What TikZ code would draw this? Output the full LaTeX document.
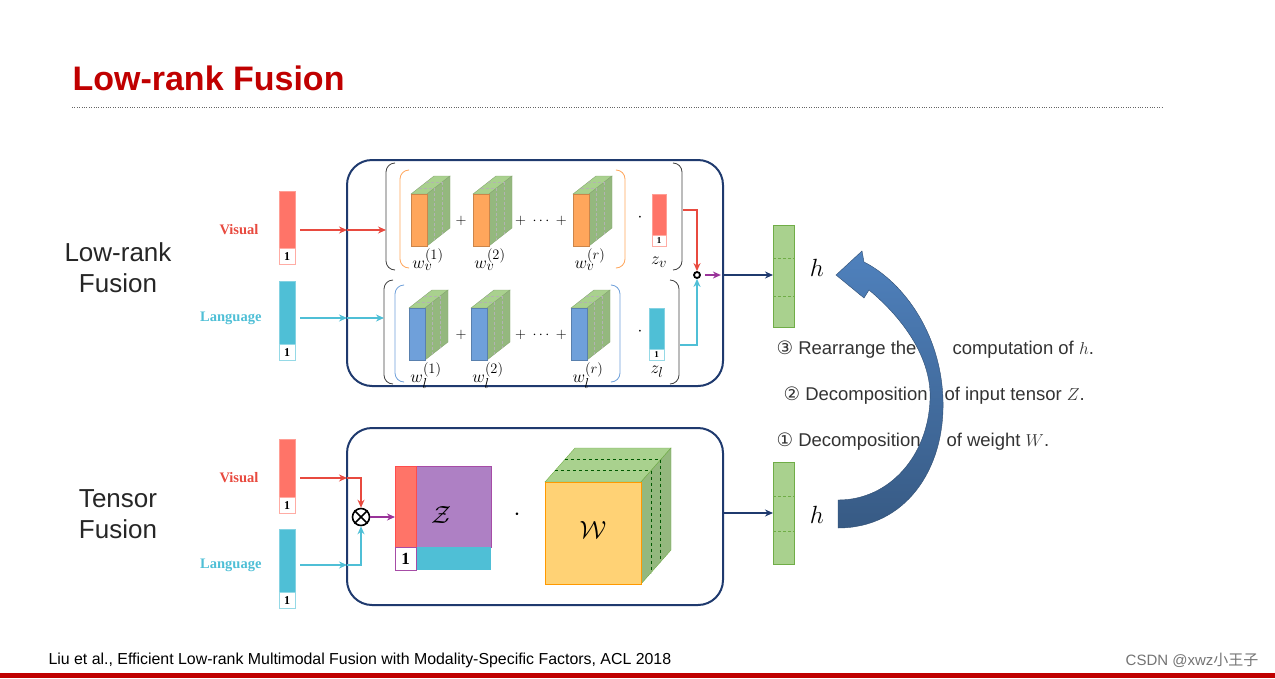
\documentclass[tikz,border=0pt]{standalone}
\usepackage{fontspec}
\setmainfont{Liberation Sans}
\newfontfamily\serifbold{Liberation Serif}
\newfontfamily\dejavu{DejaVu Sans}
\newfontfamily\cjk{Noto Sans CJK SC}
\usetikzlibrary{arrows.meta,positioning}
\definecolor{slidered}{HTML}{C00000}
\definecolor{vred}{HTML}{FF7468}
\definecolor{vtext}{HTML}{E84A3F}
\definecolor{lcyan}{HTML}{4FBFD6}
\definecolor{navy}{HTML}{1F3A6E}
\definecolor{hgreen}{HTML}{A9D18E}
\definecolor{dgreen}{HTML}{70AD47}
\definecolor{sgreen}{HTML}{94B87E}
\definecolor{lorange}{HTML}{FFA65C}
\definecolor{lblue}{HTML}{6FA0DA}
\definecolor{zpurple}{HTML}{AE80C4}
\definecolor{wyellow}{HTML}{FFD275}
\definecolor{arrowblue}{HTML}{4F81BD}

\begin{document}
\begin{tikzpicture}[
x=1pt,y=-1pt,
vec/.style={rectangle,draw=#1!70,fill=#1,inner sep=0pt,minimum width=16pt,anchor=north west},
one/.style={rectangle,draw=#1!60,fill=white,inner sep=0pt,minimum width=16pt,minimum height=16pt,
  anchor=north west,font=\fontsize{12}{12}\serifbold\bfseries},
modal/.style={font=\fontsize{14.5}{14.5}\serifbold\bfseries,text=#1},
fusion/.style={font=\fontsize{26}{31}\selectfont,align=center,text=black!85},
big box/.style={draw=navy,line width=2pt,rounded corners=25pt},
link/.style={-{Stealth[length=8pt,width=7pt]},line width=2.2pt},
hvec/.style={rectangle,draw=dgreen,fill=hgreen,thick,minimum width=21pt,minimum height=102pt,inner sep=0pt,anchor=north west},
step text/.style={font=\fontsize{18.5}{18.5}\selectfont,text=black!80,anchor=west},
mathlab/.style={font=\fontsize{19}{19}\selectfont,inner sep=1pt}
]
\useasboundingbox (0,0) rectangle (1275,678);

% title
\node[anchor=west,font=\fontsize{34}{34}\selectfont\bfseries,text=slidered] (title) at (69,78) {Low-rank Fusion};
\draw[dotted,black!60] (72,107) -- (1163,107);

% left labels
\node[fusion] (lrf) at (118,268) {Low-rank\\Fusion};
\node[fusion] (tf) at (118,514) {Tensor\\Fusion};

% ---------- low-rank branch ----------
\node[vec=vred,minimum height=57pt] (vv1) at (279,191) {};
\node[one=vred,below=0pt of vv1.south west,anchor=north west] (vo1) {1};
\node[vec=lcyan,minimum height=63pt] (lv1) at (279,281) {};
\node[one=lcyan,below=0pt of lv1.south west,anchor=north west] (lo1) {1};
\node[modal=vtext,anchor=east] (vl1) at (262,230) {Visual};
\node[modal=lcyan,anchor=east] (ll1) at (265,318) {Language};

\draw[big box] (347,160) rectangle (723,386);

% brackets
\draw[thick,black!75,rounded corners=9pt] (395,163) -- (386,163) -- (386,270) -- (395,270);
\draw[thick,black!75,rounded corners=9pt] (673,163) -- (682,163) -- (682,270) -- (673,270);
\draw[thick,lorange,rounded corners=9pt] (408,170) -- (400,170) -- (400,268) -- (408,268);
\draw[thick,lorange,rounded corners=9pt] (617,170) -- (625,170) -- (625,268) -- (617,268);
\draw[thick,black!75,rounded corners=9pt] (393,280) -- (384,280) -- (384,384) -- (393,384);
\draw[thick,black!75,rounded corners=9pt] (670,280) -- (679,280) -- (679,384) -- (670,384);
\draw[thick,lblue,rounded corners=9pt] (403,285) -- (395,285) -- (395,382) -- (403,382);
\draw[thick,lblue,rounded corners=9pt] (612,285) -- (620,285) -- (620,382) -- (612,382);

% factor slabs
\foreach \x/\y/\c/\lab in {411/194/lorange/{w_v^{(1)}},473/194/lorange/{w_v^{(2)}},573/194/lorange/{w_v^{(r)}},
                             409/308/lblue/{w_l^{(1)}},471/308/lblue/{w_l^{(2)}},571/308/lblue/{w_l^{(r)}}}{
  \fill[hgreen,draw=hgreen!80!black] (\x,\y) -- ({\x+16},\y) -- ({\x+39},{\y-18}) -- ({\x+23},{\y-18}) -- cycle;
  \fill[sgreen,draw=hgreen!80!black] ({\x+16},\y) -- ({\x+39},{\y-18}) -- ({\x+39},{\y+34}) -- ({\x+16},{\y+52}) -- cycle;
  \foreach \t in {0.33,0.66}{
    \draw[densely dashed,black!30,very thin] ({\x+16+23*\t},{\y-18*\t}) -- ({\x+16+23*\t},{\y+52-18*\t});
    \draw[densely dashed,black!30,very thin] ({\x+23*\t},{\y-18*\t}) -- ({\x+16+23*\t},{\y-18*\t});
  }
  \fill[\c,draw=\c!80!black] (\x,\y) rectangle ({\x+16},{\y+52});
  \node[mathlab,anchor=north] at ({\x+17},{\y+53}) {$\lab$};
}
\foreach \y in {221,335}{
  \node[font=\fontsize{15}{15}\selectfont] at (461,\y) {$+$};
  \node[font=\fontsize{15}{15}\selectfont] at (541,\y) {$+\ \cdots\ +$};
  \node[font=\fontsize{18}{18}\selectfont] at (640,{\y-3}) {$\cdot$};
}
\node[vec=vred,minimum width=14pt,minimum height=41pt] (zv) at (652,194) {};
\node[one=vred,minimum width=14pt,minimum height=11pt,font=\fontsize{9}{9}\serifbold\bfseries,anchor=north west] (zvo) at (652,235) {1};
\node[mathlab] (zvl) at (659,262) {$z_v$};
\node[vec=lcyan,minimum width=15pt,minimum height=41pt] (zl) at (649,308) {};
\node[one=lcyan,minimum width=15pt,minimum height=11pt,font=\fontsize{9}{9}\serifbold\bfseries,anchor=north west] (zlo) at (649,349) {1};
\node[mathlab] (zll) at (657,372) {$z_l$};

\node[circle,draw,line width=1.8pt,inner sep=0pt,minimum size=6pt] (odot) at (697,275) {};
\coordinate (vin1) at (347,230);
\coordinate (lin1) at (347,318);
\draw[link,vtext] (vv1.east |- vin1) ++(5,0) -- (vin1);
\draw[link,vtext] (vin1) -- (386,230);
\draw[link,lcyan] (lv1.east |- lin1) ++(5,0) -- (lin1);
\draw[link,lcyan] (lin1) -- (384,318);
\draw[link,vtext] (683,210) -| (odot.north);
\draw[link,lcyan] (680,345) -| (odot.south);
\draw[link,violet!80] (odot.east) ++(4,0) -- ++(16,0);

\node[hvec] (h1) at (773,225) {};
\draw[densely dashed,dgreen] (773,258) -- (794,258) (773,296) -- (794,296);
\node[font=\fontsize{28}{28}\selectfont] (h1l) at (817,268) {$h$};
\draw[link,navy] (723,275) -- (h1.west |- 0,275);

% ---------- tensor branch ----------
\node[vec=vred,minimum height=58pt] (vv2) at (279,439) {};
\node[one=vred,below=0pt of vv2.south west,anchor=north west] (vo2) {1};
\node[vec=lcyan,minimum height=63pt] (lv2) at (279,529) {};
\node[one=lcyan,below=0pt of lv2.south west,anchor=north west] (lo2) {1};
\node[modal=vtext,anchor=east] (vl2) at (262,478) {Visual};
\node[modal=lcyan,anchor=east] (ll2) at (265,565) {Language};

\draw[big box] (347,428) rectangle (723,605);

\node[circle,draw,line width=1.6pt,inner sep=0pt,minimum size=17pt] (otimes) at (361,517) {};
\draw[line width=1.6pt] (otimes.north west) -- (otimes.south east) (otimes.north east) -- (otimes.south west);
\coordinate (vin2) at (347,478);
\coordinate (lin2) at (347,565);
\draw[link,vtext] (vv2.east |- vin2) ++(5,0) -- (vin2);
\draw[link,vtext] (vin2) -| (otimes.north);
\draw[link,lcyan] (lv2.east |- lin2) ++(5,0) -- (lin2);
\draw[link,lcyan] (lin2) -| (otimes.south);

% Z matrix
\fill[zpurple,draw=violet!70] (416,466) rectangle (491,547);
\fill[lcyan] (416,547) rectangle (491,570);
\fill[vred,draw=red!70] (395,466) rectangle (416,547);
\node[rectangle,draw=violet!70,fill=white,minimum width=21pt,minimum height=23pt,inner sep=0pt,anchor=north west,
  font=\fontsize{17}{17}\serifbold\bfseries] (zone) at (395,547) {1};
\node[font=\fontsize{32}{32}\selectfont] (zlab) at (441,515) {$\mathcal{Z}$};
\coordinate (zleft) at (395,517);
\draw[link,violet!80] (otimes.east) -- (zleft);
\node[font=\fontsize{24}{24}\selectfont] (dot2) at (517,515) {$\cdot$};

% W tensor
\fill[hgreen,draw=dgreen] (545,482) -- (641,482) -- (671,448) -- (575,448) -- cycle;
\fill[sgreen,draw=dgreen] (641,482) -- (671,448) -- (671,550) -- (641,584) -- cycle;
\foreach \t in {0.33,0.66}{
  \draw[dashed,thick,green!35!black] ({641+30*\t},{482-34*\t}) -- ({641+30*\t},{584-34*\t});
  \draw[dashed,thick,green!35!black] ({545+30*\t},{482-34*\t}) -- ({641+30*\t},{482-34*\t});
}
\fill[wyellow,draw=orange!80!yellow,thick] (545,482) rectangle (641,584);
\node[font=\fontsize{32}{32}\selectfont] (wlab) at (593,530) {$\mathcal{W}$};

\node[hvec] (h2) at (773,462) {};
\draw[densely dashed,dgreen] (773,496) -- (794,496) (773,531) -- (794,531);
\node[font=\fontsize{28}{28}\selectfont] (h2l) at (817,515) {$h$};
\draw[link,navy] (723,513) -- (h2.west |- 0,513);

% steps and curved arrow
\node[step text] (s3a) at (773,350) {{\dejavu\char"2462} Rearrange the};
\node[step text] (s3b) at (949,350) {computation of $h$.};
\node[step text] (s2a) at (780,396) {{\dejavu\char"2461} Decomposition};
\node[step text] (s2b) at (941,396) {of input tensor $Z$.};
\node[step text] (s1a) at (773,442) {{\dejavu\char"2460} Decomposition};
\node[step text] (s1b) at (943,442) {of weight $W$.};

\shade[top color=arrowblue,bottom color=arrowblue!70!black,draw=arrowblue!60!black]
  (838,528) .. controls (905,528) and (945,470) .. (943,400)
  .. controls (941,330) and (900,280) .. (864,262) -- (862,251) -- (836,275) -- (864,298) -- (869,290)
  .. controls (905,320) and (932,360) .. (930,400)
  .. controls (928,455) and (890,500) .. (838,500) -- cycle;

% footer
\node[anchor=west,font=\fontsize{15.9}{16}\selectfont] (ref) at (45,660) {Liu et al., Efficient Low-rank Multimodal Fusion with Modality-Specific Factors, ACL 2018};
\node[anchor=east,font=\fontsize{15}{15}\selectfont,text=black!55] (csdn) at (1262,660) {CSDN @xwz{\cjk 小王子}};
\fill[slidered] (0,673) rectangle (1275,678);
\end{tikzpicture}
\end{document}
